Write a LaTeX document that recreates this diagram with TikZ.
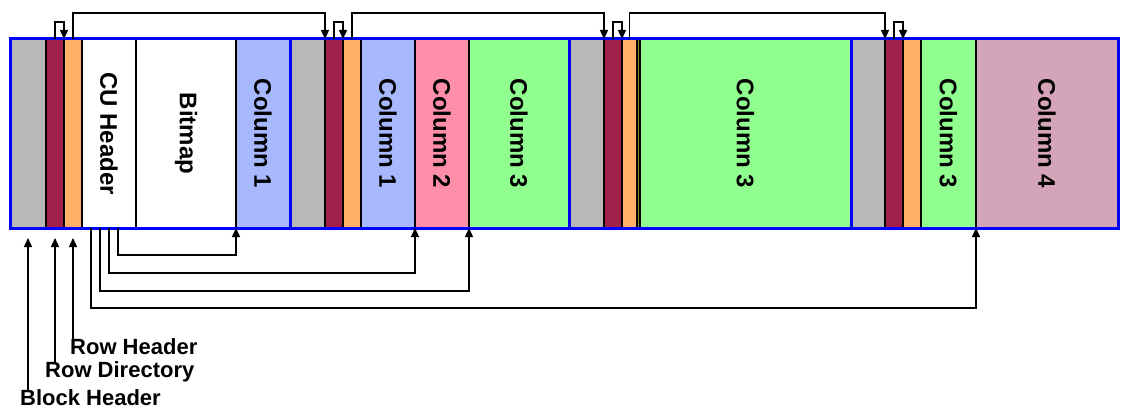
\documentclass[tikz,border=0pt]{standalone}
\usepackage{fontspec}
\setmainfont{Liberation Sans}
\usetikzlibrary{arrows.meta}
\definecolor{cgray}{HTML}{B8B8B8}
\definecolor{cmar}{HTML}{A0204A}
\definecolor{corg}{HTML}{FFB066}
\definecolor{cblue}{HTML}{A8B8FF}
\definecolor{cpink}{HTML}{FF8FA8}
\definecolor{cgreen}{HTML}{90FF90}
\definecolor{cmauve}{HTML}{D4A4B8}
\definecolor{colive}{HTML}{8A8A20}
\begin{document}
\begin{tikzpicture}[x=1pt,y=-1pt,
  cell/.style={draw=black,line width=1.5pt,minimum height=189pt,inner sep=0pt,outer sep=0pt,anchor=center},
  ctext/.style={rotate=-90,font=\fontsize{24}{28}\selectfont\bfseries,inner sep=0pt},
  lab/.style={font=\fontsize{22}{26}\selectfont\bfseries,anchor=west,inner sep=0pt},
  blk/.style={draw={rgb,255:red,0;green,0;blue,255},line width=3pt},
  arr/.style={draw=black,line width=1.4pt,-{Triangle[length=9pt,width=8pt]}}]
\useasboundingbox (0,0) rectangle (1125,417);
\newcommand{\cellat}[4]{\node[cell,fill=#4,minimum width={#3-#2}] (#1) at ({(#2+#3)/2},133.5) {};}
% block 1
\cellat{b1g}{10}{46}{cgray}
\cellat{b1m}{46}{64}{cmar}
\cellat{b1o}{64}{82}{corg}
\cellat{cu}{82}{136}{white}
\cellat{bm}{136}{236}{white}
\cellat{b1c1}{236}{290}{cblue}
% block 2
\cellat{b2g}{290}{325}{cgray}
\cellat{b2m}{325}{343}{cmar}
\cellat{b2o}{343}{361}{corg}
\cellat{b2c1}{361}{415}{cblue}
\cellat{b2c2}{415}{469}{cpink}
\cellat{b2c3}{469}{569}{cgreen}
% block 3
\cellat{b3g}{569}{604}{cgray}
\cellat{b3m}{604}{622}{cmar}
\cellat{b3o}{622}{637}{corg}
\cellat{b3s}{637}{640}{colive}
\cellat{b3c3}{640}{851}{cgreen}
% block 4
\cellat{b4g}{851}{885}{cgray}
\cellat{b4m}{885}{903}{cmar}
\cellat{b4o}{903}{921}{corg}
\cellat{b4c3}{921}{976}{cgreen}
\cellat{b4c4}{976}{1118}{cmauve}
% block borders
\draw[blk] (10,39) rectangle (290,228);
\draw[blk] (290,39) rectangle (569,228);
\draw[blk] (569,39) rectangle (851,228);
\draw[blk] (851,39) rectangle (1118,228);
% texts
\node[ctext] (t1) at (cu) {CU Header};
\node[ctext] (t2) at (bm) {Bitmap};
\node[ctext] (t3) at (b1c1) {Column 1};
\node[ctext] (t4) at (b2c1) {Column 1};
\node[ctext] (t5) at (b2c2) {Column 2};
\node[ctext] (t6) at (b2c3) {Column 3};
\node[ctext] (t7) at (b3c3) {Column 3};
\node[ctext] (t8) at (b4c3) {Column 3};
\node[ctext] (t9) at (b4c4) {Column 4};
% top arrows
\draw[arr] (b1m.north) -- ++(0,-17) -| (b1m.north east);
\draw[arr] (b1o.north) -- ++(0,-26) -| (b2g.north east);
\draw[arr] (b2m.north) -- ++(0,-17) -| (b2m.north east);
\draw[arr] (b2o.north) -- ++(0,-26) -| (b3g.north east);
\draw[arr] (b3m.north) -- ++(0,-17) -| (b3m.north east);
\draw[arr] (b3o.north) -- ++(0,-26) -| (b4g.north east);
\draw[arr] (b4m.north) -- ++(0,-17) -| (b4m.north east);
% bottom arrows
\draw[arr] ([xshift=9pt]cu.south) -- ++(0,27) -| (b1c1.south west);
\draw[arr] (cu.south) -- ++(0,45) -| (b2c2.south west);
\draw[arr] ([xshift=-9pt]cu.south) -- ++(0,63) -| (b2c3.south west);
\draw[arr] ([xshift=-18pt]cu.south) -- ++(0,80) -| (b4c4.south west);
% labels
\node[lab] (lrh) at (70,347) {Row Header};
\node[lab] (lrd) at (45,372) {Row Directory};
\node[lab] (lbh) at (20,398) {Block Header};
\draw[arr] (b1o.south |- lrh.north) -- ([yshift=-10pt]b1o.south);
\draw[arr] (b1m.south |- lrd.north) -- ([yshift=-10pt]b1m.south);
\draw[arr] (b1g.south |- lbh.north) -- ([yshift=-10pt]b1g.south);
\end{tikzpicture}
\end{document}
